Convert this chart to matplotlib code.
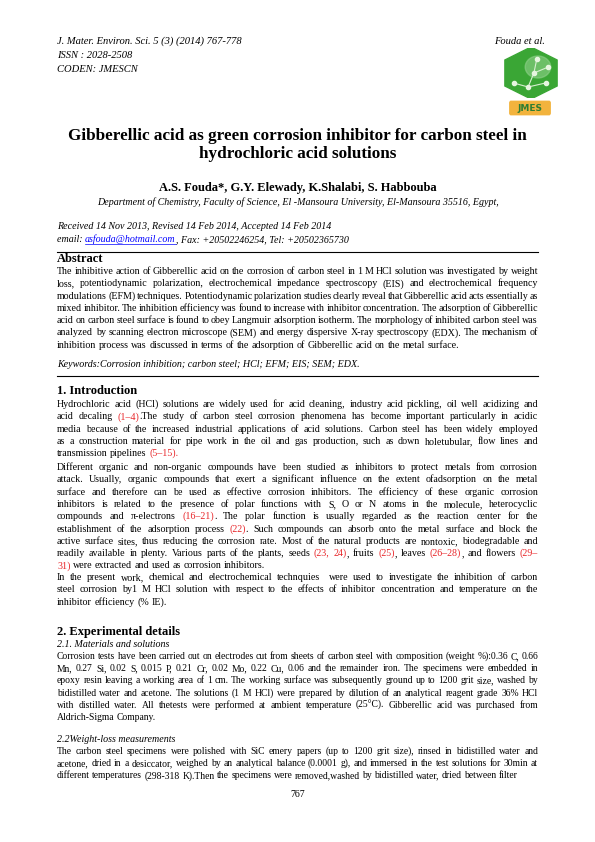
import matplotlib
matplotlib.use('Agg')
import matplotlib.pyplot as plt
from matplotlib.patches import RegularPolygon, FancyBboxPatch

W, H = 595, 842
fig = plt.figure(figsize=(W/100, H/100), dpi=100)
fig.patch.set_facecolor('white')
SERIF = 'Liberation Serif'
RED = '#e8262a'
X0, X1 = 57, 538

def fy(y):
    return 1 - y / H

def txt(x, y, s, size=7.2, **kw):
    kw.setdefault('family', SERIF)
    return fig.text(x / W, fy(y), s, fontsize=size, va='baseline', **kw)

renderer = fig.canvas.get_renderer()

def width(t):
    return t.get_window_extent(renderer).width

def justify(y, line, size=7.2, last=False, style='normal'):
    # '~' marks red pieces, '^' glues a piece to the previous one
    arts, widths, glue = [], [], []
    for w in line.split(' '):
        for k, piece in enumerate(w.split('^')):
            red = piece.startswith('~')
            piece = piece.lstrip('~')
            t = txt(0, y, piece, size, color=RED if red else 'black', style=style)
            arts.append(t)
            widths.append(width(t))
            glue.append(k > 0)
    ngaps = sum(1 for g in glue[1:] if not g)
    sp = size * 0.25 * 100 / 72
    if not last and ngaps > 0:
        sp = (X1 - X0 - sum(widths)) / ngaps
    x = X0
    for i, (t, w) in enumerate(zip(arts, widths)):
        if i > 0 and not glue[i]:
            x += sp
        t.set_x(x / W)
        x += w

def para(y0, lines, dy=12.3, size=7.2, style='normal'):
    for i, l in enumerate(lines):
        justify(y0 + i * dy, l, size, last=(i == len(lines) - 1), style=style)

# header
txt(X0, 44, 'J. Mater. Environ. Sci. 5 (3) (2014) 767-778', 7.6, style='italic')
txt(X0, 58, 'ISSN : 2028-2508', 7.6, style='italic')
txt(X0, 72, 'CODEN: JMESCN', 7.6, style='italic')
txt(494, 44, 'Fouda et al.', 7.6, style='italic')

# logo
ax = fig.add_axes([502/W, 1-98/H, 58/W, 50/H])
ax.set_xlim(0, 1); ax.set_ylim(0, 1); ax.axis('off')
ax.add_patch(RegularPolygon((0.5, 0.5), 6, radius=0.52, orientation=0, color='#3aa635'))
ax.add_patch(plt.Circle((0.62, 0.62), 0.22, color='#8fd08a', alpha=0.6))
for (a, b) in [((0.2, 0.3), (0.45, 0.22)), ((0.45, 0.22), (0.55, 0.5)), ((0.55, 0.5), (0.8, 0.62)),
               ((0.45, 0.22), (0.75, 0.3)), ((0.55, 0.5), (0.6, 0.78))]:
    ax.plot([a[0], b[0]], [a[1], b[1]], color='#d8efd2', lw=0.8)
for p in [(0.2, 0.3), (0.45, 0.22), (0.55, 0.5), (0.8, 0.62), (0.75, 0.3), (0.6, 0.78)]:
    ax.plot(*p, 'o', color='#e6f5e0', ms=3)
fig.add_artist(FancyBboxPatch((511/W, 1-113/H), 38/W, 10/H, boxstyle='round,pad=0.002', color='#f2b33d'))
txt(530, 111, 'JMES', 6.5, ha='center', weight='bold', color='#2e7d32', family='DejaVu Sans')

# title
txt(W/2, 140, 'Gibberellic acid as green corrosion inhibitor for carbon steel in', 12.3, ha='center', weight='bold')
txt(W/2, 158, 'hydrochloric acid solutions', 12.3, ha='center', weight='bold')
txt(W/2, 191, 'A.S. Fouda*, G.Y. Elewady, K.Shalabi, S. Habbouba', 9, ha='center', weight='bold')
txt(W/2, 205, 'Department of Chemistry, Faculty of Science, El -Mansoura University, El-Mansoura 35516, Egypt,', 7.2, ha='center', style='italic')

txt(X0, 229, 'Received 14 Nov 2013, Revised 14 Feb 2014, Accepted 14 Feb 2014', 7.2, style='italic')
t1 = txt(X0, 242, 'email: ', 7.2, style='italic')
xa = X0 + width(t1)
t2 = txt(xa, 242, 'asfouda@hotmail.com', 7.2, style='italic', color='blue')
xb = xa + width(t2)
fig.add_artist(plt.Line2D([xa/W, xb/W], [fy(243.5)] * 2, color='blue', lw=0.5))
txt(xb, 242, ', Fax: +20502246254, Tel: +20502365730', 7.2, style='italic')
fig.add_artist(plt.Line2D([X0/W, X1/W], [fy(252)] * 2, color='black', lw=0.8))

txt(X0, 262, 'Abstract', 9, weight='bold')
abstract = [
    'The inhibitive action of Gibberellic acid on the corrosion of carbon steel in 1 M HCl solution was investigated by weight',
    'loss, potentiodynamic polarization, electrochemical impedance spectroscopy (EIS) and electrochemical frequency',
    'modulations (EFM) techniques.  Potentiodynamic polarization studies clearly reveal that Gibberellic acid acts essentially as',
    'mixed inhibitor. The inhibition efficiency was found to increase with inhibitor concentration. The adsorption of Gibberellic',
    'acid on carbon steel surface is found to obey Langmuir adsorption isotherm. The morphology of inhibited carbon steel was',
    'analyzed by scanning electron microscope (SEM) and energy dispersive X-ray spectroscopy (EDX). The mechanism of',
    'inhibition process was discussed in terms of the adsorption of Gibberellic acid on the metal surface.',
]
para(274, abstract)
txt(X0, 367, 'Keywords:Corrosion inhibition; carbon steel; HCl; EFM; EIS; SEM; EDX.', 7.2, style='italic')
fig.add_artist(plt.Line2D([X0/W, X1/W], [fy(376)] * 2, color='black', lw=0.8))

txt(X0, 394, '1. Introduction', 9, weight='bold')
intro1 = [
    'Hydrochloric acid (HCl) solutions are widely used for acid cleaning, industry acid pickling, oil well acidizing and',
    'acid decaling ~(1–4)^.The study of carbon steel corrosion phenomena has become important particularly in acidic',
    'media because of the increased industrial applications of acid solutions. Carbon steel has been widely employed',
    'as a construction material for pipe work in the oil and gas production, such as down holetubular, flow lines and',
    'transmission pipelines ~(5–15).',
]
para(407, intro1)
intro2 = [
    'Different organic and non-organic compounds have been studied as inhibitors to protect metals from corrosion',
    'attack. Usually, organic compounds that exert a significant influence on the extent ofadsorption on the metal',
    'surface and therefore can be used as effective corrosion inhibitors. The efficiency of these organic corrosion',
    'inhibitors is related to the presence of polar functions with S, O or N atoms in the molecule, heterocyclic',
    'compounds and π-electrons ~(16–21)^. The polar function is usually regarded as the reaction center for the',
    'establishment of the adsorption process ~(22)^. Such compounds can absorb onto the metal surface and block the',
    'active surface sites, thus reducing the corrosion rate. Most of the natural products are nontoxic, biodegradable and',
    'readily available in plenty. Various parts of the plants, seeds ~(23, ~24)^, fruits ~(25)^, leaves ~(26–28)^, and flowers ~(29–',
    '~31) were extracted and used as corrosion inhibitors.',
]
para(470, intro2)
intro3 = [
    'In the present work, chemical and electrochemical technquies  were used to investigate the inhibition of carbon',
    'steel corrosion by1 M HCl solution with respect to the effects of inhibitor concentration and temperature on the',
    'inhibitor efficiency (% IE).',
]
para(580, intro3)

txt(X0, 635, '2. Experimental details', 9, weight='bold')
txt(X0, 647, '2.1. Materials and solutions', 7.2, style='italic')
exp1 = [
    'Corrosion tests have been carried out on electrodes cut from sheets of carbon steel with composition (weight %):0.36 C, 0.66',
    'Mn, 0.27 Si, 0.02 S, 0.015 P, 0.21 Cr, 0.02 Mo, 0.22 Cu, 0.06 and the remainder iron. The specimens were embedded in',
    'epoxy resin leaving a working area of 1 cm. The working surface was subsequently ground up to 1200 grit size, washed by',
    'bidistilled water and acetone. The solutions (1 M HCl) were prepared by dilution of an analytical reagent grade 36% HCl',
    'with distilled water. All thetests were performed at ambient temperature (25°C). Gibberellic acid was purchased from',
    'Aldrich-Sigma Company.',
]
para(659, exp1, dy=12.2, size=6.9)
txt(X0, 742, '2.2Weight-loss measurements', 7.2, style='italic')
exp2 = [
    'The carbon steel specimens were polished with SiC emery papers (up to 1200 grit size), rinsed in bidistilled water and',
    'acetone, dried in a desiccator, weighed by an analytical balance (0.0001 g), and immersed in the test solutions for 30min at',
    'different temperatures (298-318 K).Then the specimens were removed,washed by bidistilled water, dried between filter',
]
para(754, exp2, dy=12.2, size=6.9)

txt(W/2, 797, '767', 7.2, ha='center')

fig.savefig('out.png', dpi=100, facecolor='white')
